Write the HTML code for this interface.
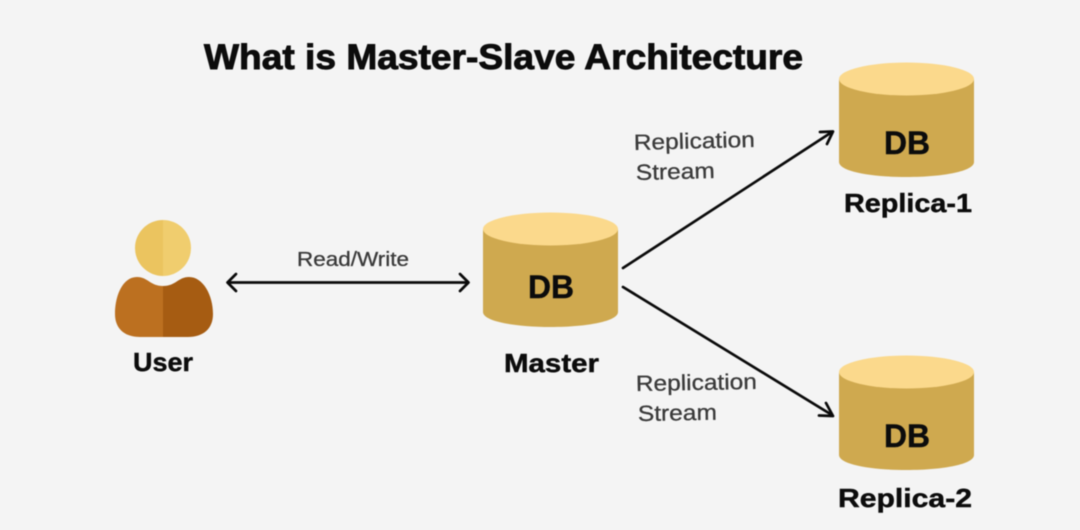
<!DOCTYPE html>
<html><head><meta charset="utf-8"><style>
html,body{margin:0;padding:0;background:#f4f4f4}
svg{display:block;filter:blur(.4px)}
text{font-family:"Liberation Sans",sans-serif}
.b{font-weight:bold;fill:#0c0c0c;stroke:#0c0c0c;stroke-width:.45}
.r{fill:#3a3a3a;stroke:#3a3a3a;stroke-width:.3}
</style></head><body>
<svg width="1080" height="530" viewBox="0 0 1080 530" xmlns="http://www.w3.org/2000/svg">
<defs>
<g id="cyl">
<path d="M0 17V100C0 109 30 115 67.500 115S135 109 135 100V17Z" fill="#cfa94f"/>
<ellipse cx="67.500" cy="17" rx="67.500" ry="16.500" fill="#fbd98c"/>
</g>
</defs>
<rect width="1080" height="530" fill="#f4f4f4"/>
<text x="204" y="69" class="b" font-size="35" textLength="599" lengthAdjust="spacingAndGlyphs" style="stroke-width:.9">What is Master-Slave Architecture</text>

<path d="M163 286C150 286 148 277 137 277C123 277 115 295 115 314C115 329 125 337 140 337H163Z" fill="#bc7020"/>
<path d="M163 286C176 286 178 277 189 277C203 277 213 295 213 314C213 329 203 337 188 337H163Z" fill="#a65c12"/>
<path d="M163 220a28 28 0 0 0 0 56Z" fill="#ebc45f"/>
<path d="M163 220a28 28 0 0 1 0 56Z" fill="#f0cd6e"/>
<text x="133" y="371" class="b" font-size="26" textLength="60" lengthAdjust="spacingAndGlyphs">User</text>

<text x="297" y="266" class="r" font-size="20" textLength="112" lengthAdjust="spacingAndGlyphs">Read/Write</text>
<g fill="none" stroke="#0a0a0a" stroke-width="2.700" stroke-linecap="round" stroke-linejoin="round">
<path d="M228 282.500H468"/>
<path d="M236 274L227.500 282.500L236 291"/>
<path d="M460 274L468.500 282.500L460 291"/>
<path d="M623 268L832 132"/>
<path d="M820 132L833 131.500L827 144"/>
<path d="M623 287L832 415"/>
<path d="M826 403L833 416L819 415.500"/>
</g>

<use href="#cyl" x="483" y="212"/>
<text x="528" y="298" class="b" font-size="32" textLength="46" lengthAdjust="spacingAndGlyphs">DB</text>
<text x="504" y="372" class="b" font-size="26" textLength="95" lengthAdjust="spacingAndGlyphs">Master</text>

<use href="#cyl" x="839" y="62"/>
<text x="884" y="154" class="b" font-size="32" textLength="46" lengthAdjust="spacingAndGlyphs">DB</text>
<text x="844" y="212" class="b" font-size="26" textLength="128" lengthAdjust="spacingAndGlyphs">Replica-1</text>

<use href="#cyl" x="839" y="355"/>
<text x="884" y="447" class="b" font-size="32" textLength="46" lengthAdjust="spacingAndGlyphs">DB</text>
<text x="838" y="507" class="b" font-size="26" textLength="134" lengthAdjust="spacingAndGlyphs">Replica-2</text>

<text x="634" y="150" class="r" font-size="22" textLength="121" lengthAdjust="spacingAndGlyphs" transform="rotate(-1.500 634 150)">Replication</text>
<text x="636" y="180" class="r" font-size="22" textLength="79" lengthAdjust="spacingAndGlyphs" transform="rotate(-1.500 636 180)">Stream</text>
<text x="636" y="391" class="r" font-size="22" textLength="121" lengthAdjust="spacingAndGlyphs" transform="rotate(-1 636 391)">Replication</text>
<text x="638" y="421" class="r" font-size="22" textLength="79" lengthAdjust="spacingAndGlyphs" transform="rotate(-1 638 421)">Stream</text>
</svg>
</body></html>
